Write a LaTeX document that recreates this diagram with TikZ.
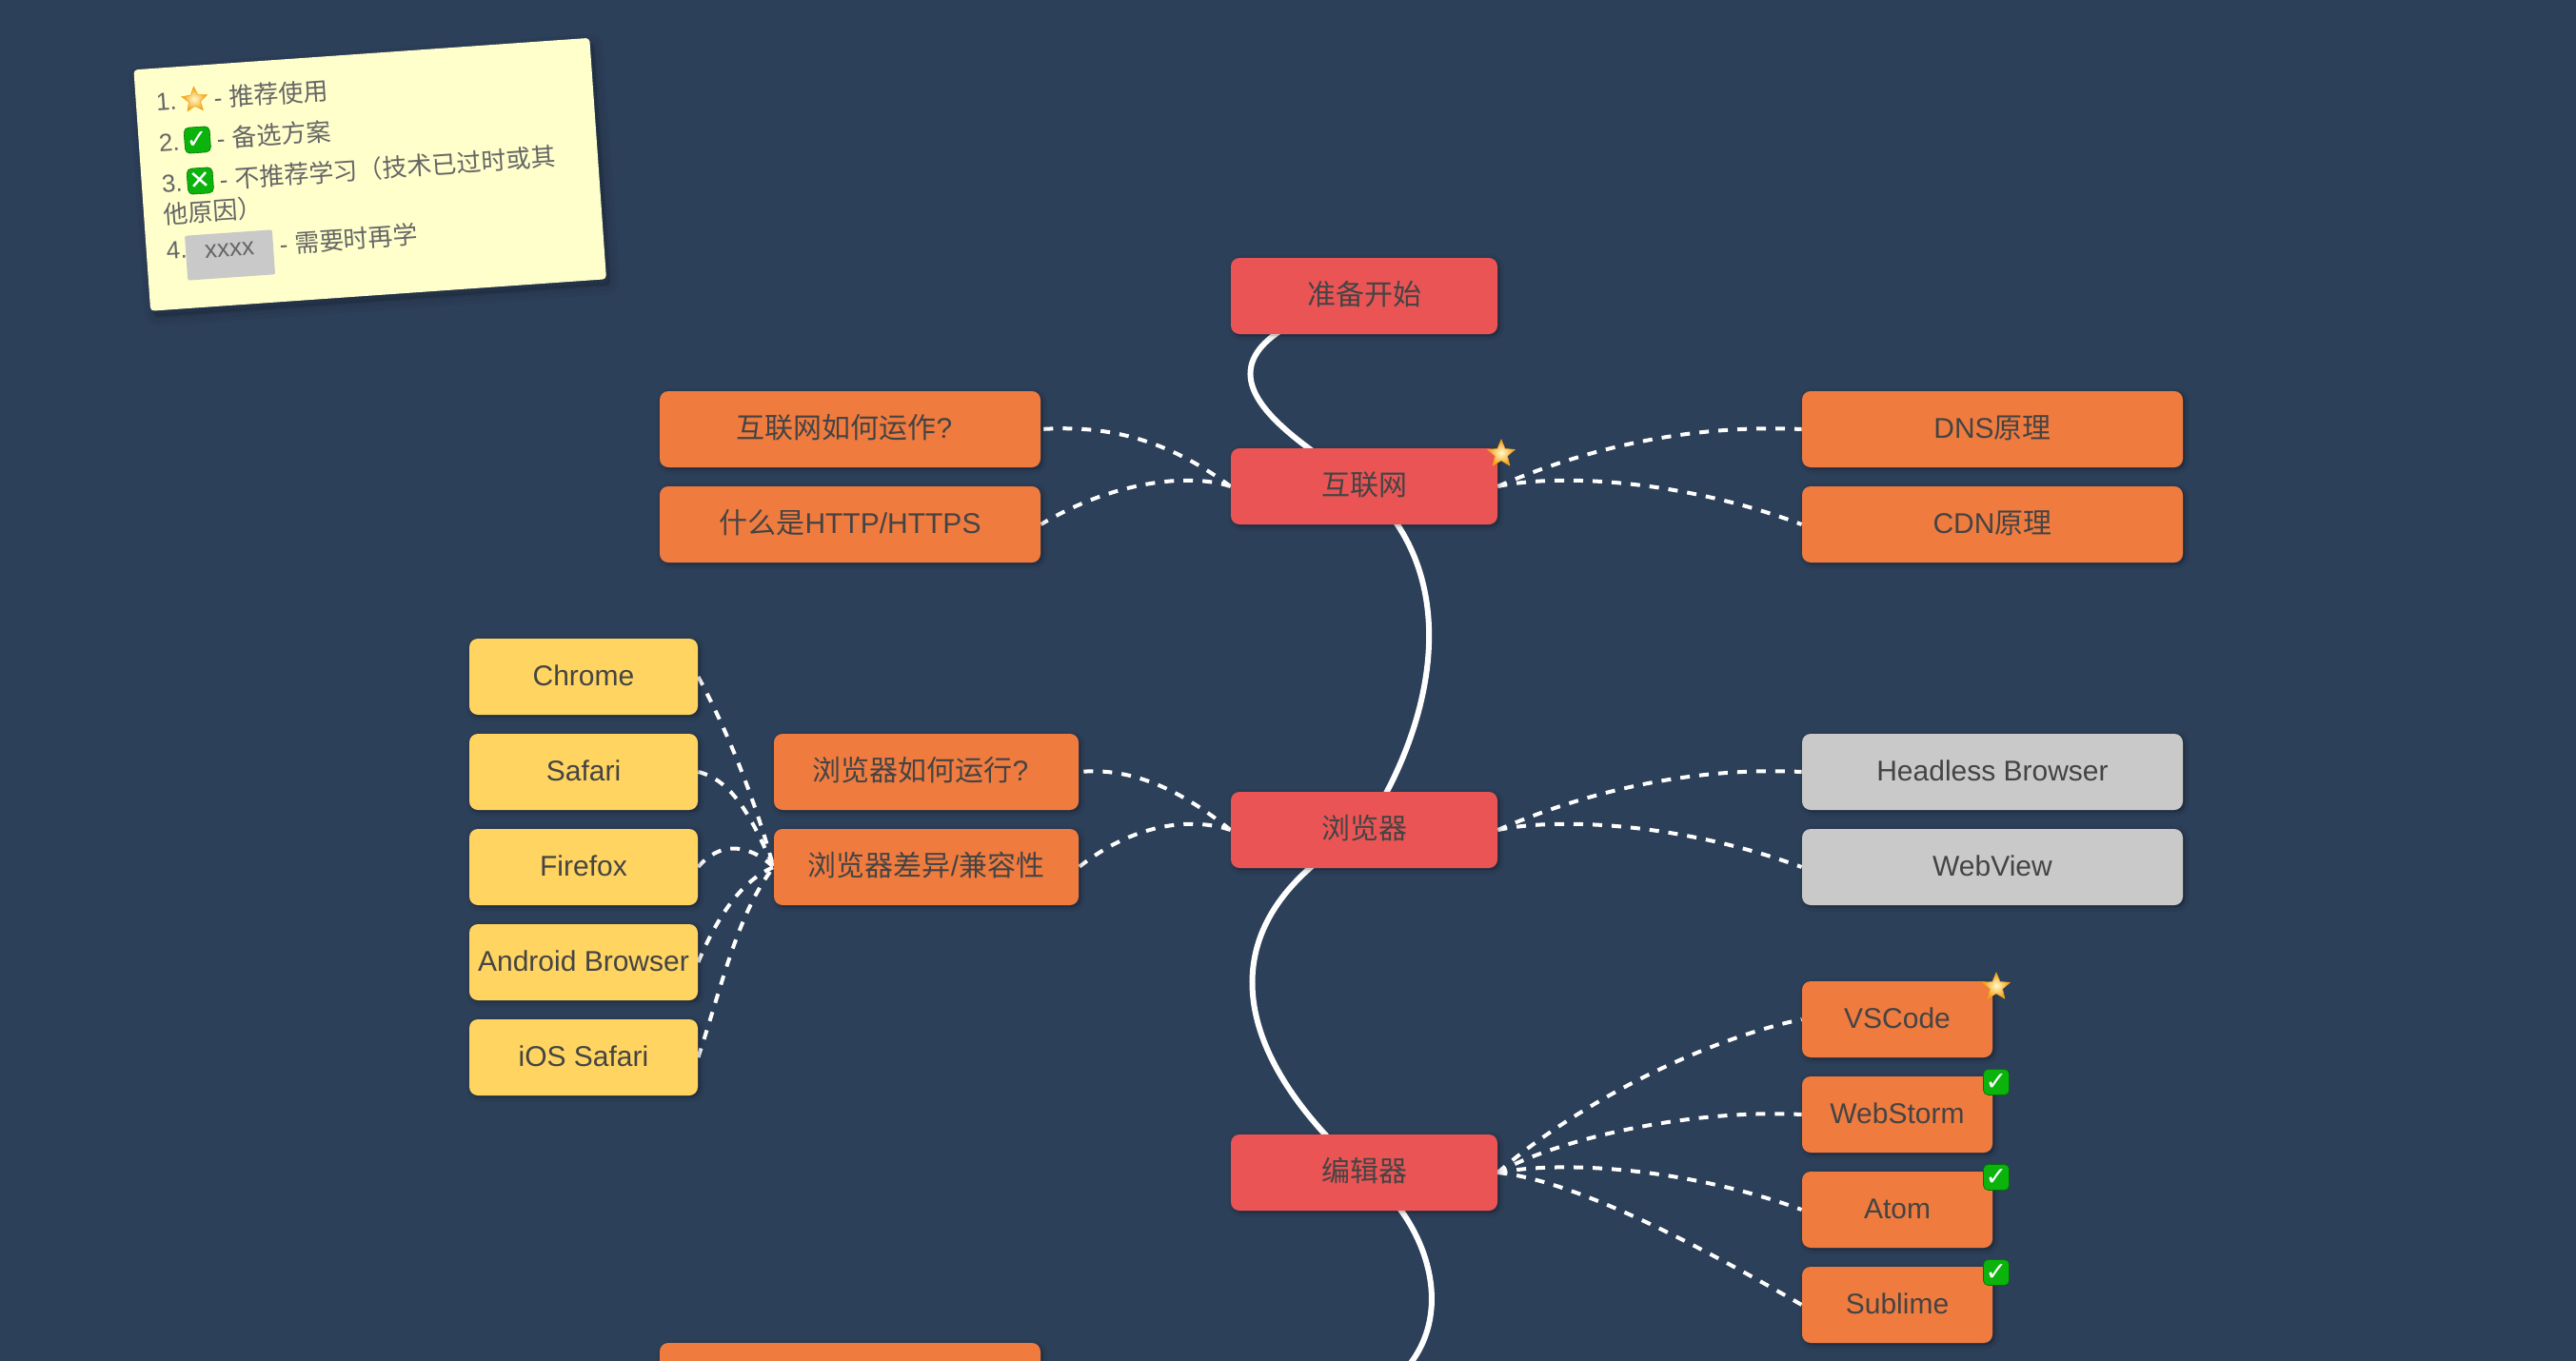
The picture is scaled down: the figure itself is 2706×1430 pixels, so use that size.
\documentclass[tikz,border=0pt]{standalone}
\usepackage{fontspec}
\setmainfont{Liberation Sans}
\newfontfamily\cjk{Noto Sans CJK SC}
\newfontfamily\symf{DejaVu Sans}
\usetikzlibrary{shapes.geometric,shadows,backgrounds}
\definecolor{bgc}{HTML}{2D4059}
\definecolor{redc}{HTML}{EA5455}
\definecolor{orangec}{HTML}{F07B3F}
\definecolor{yellowc}{HTML}{FFD460}
\definecolor{grayc}{HTML}{C9C9C9}
\definecolor{notec}{HTML}{FFFFCC}
\definecolor{textc}{HTML}{444444}
\definecolor{notetext}{HTML}{666666}
\definecolor{greenc}{HTML}{0CB30C}
\definecolor{starin}{HTML}{FFFBC8}
\definecolor{starout}{HTML}{F59A12}
\tikzset{
  softshadow/.style={
    general shadow={shadow xshift=1pt,shadow yshift=-1pt,fill=black,fill opacity=.035,draw=black,draw opacity=.035,line width=5pt},
    general shadow={shadow xshift=1pt,shadow yshift=-1pt,fill=black,fill opacity=.04,draw=black,draw opacity=.04,line width=3pt},
    general shadow={shadow xshift=1pt,shadow yshift=-1pt,fill=black,fill opacity=.05,draw=black,draw opacity=.05,line width=1pt}},
  box/.style={rectangle,rounded corners=4.5pt,inner sep=0pt,minimum height=40pt,text height=11pt,text depth=2pt,text=textc,font=\fontsize{15}{18}\selectfont,softshadow},
  mainbox/.style={box,fill=redc,minimum width=140pt},
  subbox/.style={box,fill=orangec,minimum width=200pt},
  midbox/.style={box,fill=orangec,minimum width=160pt},
  edbox/.style={box,fill=orangec,minimum width=100pt},
  leafbox/.style={box,fill=yellowc,minimum width=120pt},
  graybox/.style={box,fill=grayc,minimum width=200pt},
  spine/.style={draw=white,line width=3pt},
  twig/.style={draw=white,line width=2pt,dash pattern=on 5pt off 5pt},
  staricon/.style={star,star points=5,star point ratio=2.2,minimum size=15pt,inner sep=0pt,inner color=starin,outer color=starout,draw=starout!90!yellow,line width=.3pt},
  checkicon/.style={rectangle,rounded corners=2.5pt,minimum width=13.5pt,minimum height=13.5pt,inner sep=0pt,fill=greenc,draw=green!45!black,line width=.3pt,text=white,font=\symf\bfseries\fontsize{13.5}{13.5}\selectfont},
  notetxt/.style={anchor=base west,inner sep=0pt,text=notetext,font=\fontsize{13}{16}\selectfont},
}
\pgfdeclarelayer{bg}
\pgfsetlayers{bg,main}
\begin{document}
\begin{tikzpicture}[x=0.5pt,y=-0.5pt]
\useasboundingbox (0,0) rectangle (2706,1430);
\begin{pgfonlayer}{bg}
\fill[bgc] (0,0) rectangle (2706,1430);
\end{pgfonlayer}

% main column
\node[mainbox] (start) at (1433,311) {\cjk 准备开始};
\node[mainbox] (net) at (1433,511) {\cjk 互联网};
\node[mainbox] (browser) at (1433,872) {\cjk 浏览器};
\node[mainbox] (editor) at (1433,1232) {\cjk 编辑器};
\coordinate (nextmain) at (1433,1472);

% internet
\node[subbox] (howint) at (893,451) {{\cjk 互联网如何运作}?\kern6pt\null};
\node[subbox] (http) at (893,551) {{\cjk 什么是}HTTP/HTTPS};
\node[subbox] (dns) at (2093,451) {DNS{\cjk 原理}};
\node[subbox] (cdn) at (2093,551) {CDN{\cjk 原理}};

% browser
\node[midbox] (howbr) at (973,811) {{\cjk 浏览器如何运行}?\kern6pt\null};
\node[midbox] (diff) at (973,911) {{\cjk 浏览器差异}/{\cjk 兼容性}};
\node[graybox] (headless) at (2093,811) {Headless Browser};
\node[graybox] (webview) at (2093,911) {WebView};
\node[leafbox] (chrome) at (613,711) {Chrome};
\node[leafbox] (safari) at (613,811) {Safari};
\node[leafbox] (firefox) at (613,911) {Firefox};
\node[leafbox] (android) at (613,1011) {Android Browser};
\node[leafbox] (ios) at (613,1111) {iOS Safari};

% editor
\node[edbox] (vscode) at (1993,1071) {VSCode};
\node[edbox] (webstorm) at (1993,1171) {WebStorm};
\node[edbox] (atom) at (1993,1271) {Atom};
\node[edbox] (sublime) at (1993,1371) {Sublime};
\node[subbox] (nextsub) at (893,1451) {};

% badges
\node[staricon] (s1) at (1577,477) {};
\node[staricon] (s2) at (2097,1037) {};
\node[checkicon] (c1) at (2097,1137) {✓};
\node[checkicon] (c2) at (2097,1237) {✓};
\node[checkicon] (c3) at (2097,1337) {✓};

\begin{pgfonlayer}{bg}
\path[spine] (start.center) .. controls (1215,374) and (1345,452) .. (net.center);
\path[spine] (net.center) .. controls (1545,611) and (1500,772) .. (browser.center);
\path[spine] (browser.center) .. controls (1250,976) and (1305,1119) .. (editor.center);
\path[spine] (editor.center) .. controls (1506,1286) and (1547,1413) .. (nextmain);

\path[twig] (net.east) .. controls (1680,465) and (1790,446) .. (dns.west);
\path[twig] (net.east) .. controls (1640,497) and (1770,505) .. (cdn.west);
\path[twig] (net.west) .. controls (1230,465) and (1170,446) .. (howint.east);
\path[twig] (net.west) .. controls (1250,497) and (1170,505) .. (http.east);

\path[twig] (browser.east) .. controls (1680,826) and (1790,806) .. (headless.west);
\path[twig] (browser.east) .. controls (1640,858) and (1770,866) .. (webview.west);
\path[twig] (browser.west) .. controls (1240,830) and (1190,806) .. (howbr.east);
\path[twig] (browser.west) .. controls (1250,858) and (1190,866) .. (diff.east);

\path[twig] (chrome.east) .. controls (760,760) and (790,830) .. (diff.west);
\path[twig] (safari.east) .. controls (770,820) and (790,860) .. (diff.west);
\path[twig] (firefox.east) .. controls (755,885) and (785,885) .. (diff.west);
\path[twig] (android.east) .. controls (755,960) and (780,925) .. (diff.west);
\path[twig] (ios.east) .. controls (760,1030) and (775,960) .. (diff.west);

\path[twig] (editor.east) .. controls (1650,1165) and (1780,1095) .. (vscode.west);
\path[twig] (editor.east) .. controls (1640,1195) and (1780,1165) .. (webstorm.west);
\path[twig] (editor.east) .. controls (1650,1218) and (1780,1230) .. (atom.west);
\path[twig] (editor.east) .. controls (1650,1240) and (1770,1300) .. (sublime.west);
\end{pgfonlayer}

% note
\begin{scope}[shift={(140,73)},rotate=4,transform shape]
\node[rectangle,rounded corners=2pt,minimum width=240pt,minimum height=127pt,inner sep=0pt,fill=notec,anchor=north west,
  general shadow={shadow xshift=2pt,shadow yshift=-3pt,fill=black,fill opacity=.03,draw=black,draw opacity=.03,line width=10pt},
  general shadow={shadow xshift=2pt,shadow yshift=-3pt,fill=black,fill opacity=.04,draw=black,draw opacity=.04,line width=6pt},
  general shadow={shadow xshift=2pt,shadow yshift=-3pt,fill=black,fill opacity=.05,draw=black,draw opacity=.05,line width=2pt}] (note) at (0,0) {};
\node[notetxt] (n1) at (21,45.6) {1.};
\node[staricon,minimum size=14pt] (n1s) at (62,36.4) {};
\node[notetxt] (n1t) at (82,45.6) {- {\cjk 推荐使用}};
\node[notetxt] (n2) at (21,88.6) {2.};
\node[checkicon] (n2c) at (62,78.5) {✓};
\node[notetxt] (n2t) at (82,88.6) {- {\cjk 备选方案}};
\node[notetxt] (n3) at (21,131.7) {3.};
\node[checkicon] (n3c) at (62,121.6) {✕};
\node[notetxt] (n3t) at (82,131.7) {- {\cjk 不推荐学习（技术已过时或其}};
\node[notetxt] (n3u) at (21,164) {\cjk 他原因）};
\node[notetxt] (n4) at (21,201.6) {4.};
\node[rectangle,rounded corners=1pt,minimum width=46pt,minimum height=23.5pt,inner sep=0pt,fill=grayc] (kbd) at (87.7,201.6) {};
\node[notetxt,anchor=base] (kbdt) at (87.7,203) {xxxx};
\node[notetxt] (n4t) at (140,203.5) {- {\cjk 需要时再学}};
\end{scope}
\end{tikzpicture}
\end{document}
